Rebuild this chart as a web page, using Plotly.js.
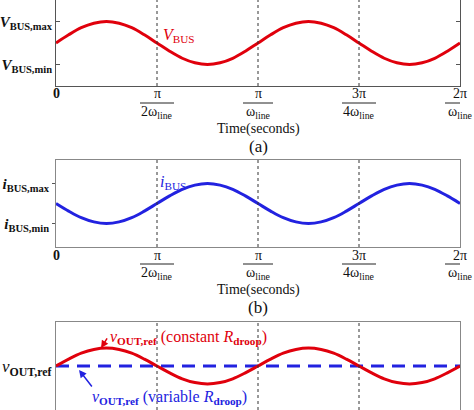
<!DOCTYPE html>
<html>
<head>
<meta charset="utf-8">
<script src="https://cdn.plot.ly/plotly-3.0.1.min.js"></script>
<style>
  html, body { margin: 0; padding: 0; background: #fff; }
  #myChart { width: 474px; height: 410px; }
</style>
</head>
<body>
<div id="myChart"></div>
<script>
// time axis in units of pi/omega_line
var timeVals = [0, 0.0625, 0.125, 0.1875, 0.25, 0.3125, 0.375, 0.4375, 0.5,
  0.5625, 0.625, 0.6875, 0.75, 0.8125, 0.875, 0.9375, 1,
  1.0625, 1.125, 1.1875, 1.25, 1.3125, 1.375, 1.4375, 1.5,
  1.5625, 1.625, 1.6875, 1.75, 1.8125, 1.875, 1.9375, 2]

// normalised ripple (-1 = min, 1 = max)
var vBus = [0, 0.38, 0.71, 0.92, 1, 0.92, 0.71, 0.38, 0,
  -0.38, -0.71, -0.92, -1, -0.92, -0.71, -0.38, 0,
  0.38, 0.71, 0.92, 1, 0.92, 0.71, 0.38, 0,
  -0.38, -0.71, -0.92, -1, -0.92, -0.71, -0.38, 0]
var iBus = [0, -0.38, -0.71, -0.92, -1, -0.92, -0.71, -0.38, 0,
  0.38, 0.71, 0.92, 1, 0.92, 0.71, 0.38, 0,
  -0.38, -0.71, -0.92, -1, -0.92, -0.71, -0.38, 0,
  0.38, 0.71, 0.92, 1, 0.92, 0.71, 0.38, 0]
var vOutConst = [0, 0.38, 0.71, 0.92, 1, 0.92, 0.71, 0.38, 0,
  -0.38, -0.71, -0.92, -1, -0.92, -0.71, -0.38, 0,
  0.38, 0.71, 0.92, 1, 0.92, 0.71, 0.38, 0,
  -0.38, -0.71, -0.92, -1, -0.92, -0.71, -0.38, 0]
var vOutVar = [0, 0, 0, 0, 0, 0, 0, 0, 0, 0, 0, 0, 0, 0, 0, 0, 0,
  0, 0, 0, 0, 0, 0, 0, 0, 0, 0, 0, 0, 0, 0, 0, 0]

var tickVals = [0, 0.5, 1, 1.5, 2]
var tickNum = ['0', 'π', 'π', '3π', '2π']
var tickDen = ['', '2ω<sub>line</sub>', 'ω<sub>line</sub>', '4ω<sub>line</sub>', 'ω<sub>line</sub>']
var barHalf = [0, 17, 15, 17, 15]

var RED = '#e0000c'
var BLUE = '#2222e0'
var FONT = 'Liberation Serif, Times New Roman, serif'

function py(px) { return 1 - px / 410 }

var data = [
  {x: timeVals, y: vBus, xaxis: 'x', yaxis: 'y', type: 'scatter', mode: 'lines',
   line: {color: RED, width: 3, shape: 'spline'}, hoverinfo: 'skip'},
  {x: timeVals, y: iBus, xaxis: 'x2', yaxis: 'y2', type: 'scatter', mode: 'lines',
   line: {color: BLUE, width: 3, shape: 'spline'}, hoverinfo: 'skip'},
  {x: timeVals, y: vOutVar, xaxis: 'x3', yaxis: 'y3', type: 'scatter', mode: 'lines',
   line: {color: BLUE, width: 3, dash: '13px,8px'}, hoverinfo: 'skip'},
  {x: timeVals, y: vOutConst, xaxis: 'x3', yaxis: 'y3', type: 'scatter', mode: 'lines',
   line: {color: RED, width: 3, shape: 'spline'}, hoverinfo: 'skip'}
]

var shapes = []
var annotations = []

// panel bottoms in px, used for the fraction tick labels
var panels = [
  {xref: 'x', yref: 'y domain', bottom: 86, label: '(a)'},
  {xref: 'x2', yref: 'y2 domain', bottom: 247, label: '(b)'},
  {xref: 'x3', yref: 'y3 domain', bottom: null}
]

panels.forEach(function (p) {
  for (let i = 1; i < tickVals.length - 1; i++) {
    shapes.push({type: 'line', xref: p.xref, yref: p.yref, x0: tickVals[i], x1: tickVals[i],
      y0: 0, y1: 1, line: {color: '#333', width: 1, dash: 'dot'}})
  }
  if (p.bottom === null) return
  for (let i = 0; i < tickVals.length; i++) {
    annotations.push({xref: p.xref, yref: 'paper', x: tickVals[i], y: py(p.bottom + 8),
      text: i === 0 ? '<b>0</b>' : tickNum[i], showarrow: false, xanchor: 'center', yanchor: 'middle',
      font: {family: FONT, size: 14, color: '#111'}})
    if (tickDen[i] !== '') {
      shapes.push({type: 'line', xref: p.xref, yref: 'paper', xsizemode: 'pixel',
        xanchor: tickVals[i], x0: -barHalf[i], x1: barHalf[i],
        y0: py(p.bottom + 17), y1: py(p.bottom + 17), line: {color: '#222', width: 1}})
      annotations.push({xref: p.xref, yref: 'paper', x: tickVals[i], y: py(p.bottom + 26),
        text: tickDen[i], showarrow: false, xanchor: 'center', yanchor: 'middle',
        font: {family: FONT, size: 14, color: '#111'}})
    }
  }
  annotations.push({xref: p.xref, yref: 'paper', x: 1, y: py(p.bottom + 43),
    text: 'Time(seconds)', showarrow: false, xanchor: 'center', yanchor: 'middle',
    font: {family: FONT, size: 14, color: '#111'}})
  annotations.push({xref: p.xref, yref: 'paper', x: 1, y: py(p.bottom + 60),
    text: p.label, showarrow: false, xanchor: 'center', yanchor: 'middle',
    font: {family: FONT, size: 17, color: '#111'}})
})

// curve labels
annotations.push({xref: 'x', yref: 'y', x: 0.52, y: 0.33, xanchor: 'left', yanchor: 'middle',
  text: '<i>V</i><sub>BUS</sub>', showarrow: false, font: {family: FONT, size: 16, color: RED}})
annotations.push({xref: 'x2', yref: 'y2', x: 0.505, y: 1.07, xanchor: 'left', yanchor: 'middle',
  text: '<i>i</i><sub>BUS</sub>', showarrow: false, font: {family: FONT, size: 16, color: BLUE}})
annotations.push({xref: 'x3', yref: 'paper', x: 0.257, y: py(337), xanchor: 'left', yanchor: 'middle',
  text: '<i>v</i><sub><b>OUT,ref</b></sub> (constant <i>R</i><sub><b>droop</b></sub>)',
  showarrow: false, font: {family: FONT, size: 16, color: RED}})
annotations.push({xref: 'x3', yref: 'paper', x: 0.168, y: py(397), xanchor: 'left', yanchor: 'middle',
  text: '<i>v</i><sub><b>OUT,ref</b></sub> (variable <i>R</i><sub><b>droop</b></sub>)',
  showarrow: false, font: {family: FONT, size: 16, color: BLUE}})
// arrows
annotations.push({xref: 'x3', yref: 'y3', x: 0.223, y: 1.0, text: '', showarrow: true,
  ax: 7, ay: -11, arrowhead: 2, arrowsize: 1, arrowwidth: 1.5, arrowcolor: RED})
annotations.push({xref: 'x3', yref: 'y3', x: 0.114, y: -0.22, text: '', showarrow: true,
  ax: 14, ay: 18, arrowhead: 2, arrowsize: 1, arrowwidth: 1.5, arrowcolor: BLUE})

var xBase = {range: [0, 2], showgrid: false, zeroline: false, showticklabels: false,
  ticks: '', tickvals: tickVals, showline: true, linewidth: 1, fixedrange: true}
var yTickFont = {family: FONT, size: 15, color: '#111'}

var layout = {
  width: 474,
  height: 410,
  margin: {l: 56, r: 14, t: 0, b: 0},
  paper_bgcolor: '#fff',
  plot_bgcolor: '#fff',
  showlegend: false,
  font: {family: FONT, size: 14, color: '#111'},
  xaxis: Object.assign({}, xBase, {anchor: 'y', linecolor: '#555', mirror: false}),
  xaxis2: Object.assign({}, xBase, {anchor: 'y2', linecolor: '#888', mirror: true}),
  xaxis3: Object.assign({}, xBase, {anchor: 'y3', linecolor: '#888', mirror: false, side: 'top'}),
  yaxis: {domain: [py(86), 1], range: [-2, 2], showgrid: false, zeroline: false,
    showline: true, linecolor: '#555', mirror: 'ticks', ticks: 'inside', ticklen: 4,
    tickcolor: '#555', tickvals: [-1, 1],
    ticktext: ['<b><i>V</i><sub>BUS,min</sub></b>', '<b><i>V</i><sub>BUS,max</sub></b>'],
    tickfont: yTickFont, fixedrange: true},
  yaxis2: {domain: [py(247), py(160)], range: [-2.175, 2.175], showgrid: false, zeroline: false,
    showline: true, linecolor: '#888', mirror: true, ticks: 'outside', ticklen: 3,
    tickcolor: '#555', tickvals: [-1, 1],
    ticktext: ['<b><i>i</i><sub>BUS,min</sub></b>', '<b><i>i</i><sub>BUS,max</sub></b>'],
    tickfont: yTickFont, fixedrange: true},
  yaxis3: {domain: [0, py(322)], range: [-2.44, 2.44], showgrid: false, zeroline: false,
    showline: true, linecolor: '#888', mirror: true, ticks: '', tickvals: [0],
    ticktext: ['<i>v</i><sub><b>OUT,ref</b></sub>'],
    tickfont: {family: FONT, size: 17, color: '#111'}, fixedrange: true},
  shapes: shapes,
  annotations: annotations
}

Plotly.newPlot('myChart', data, layout, {displayModeBar: false, staticPlot: true})
</script>
</body>
</html>
